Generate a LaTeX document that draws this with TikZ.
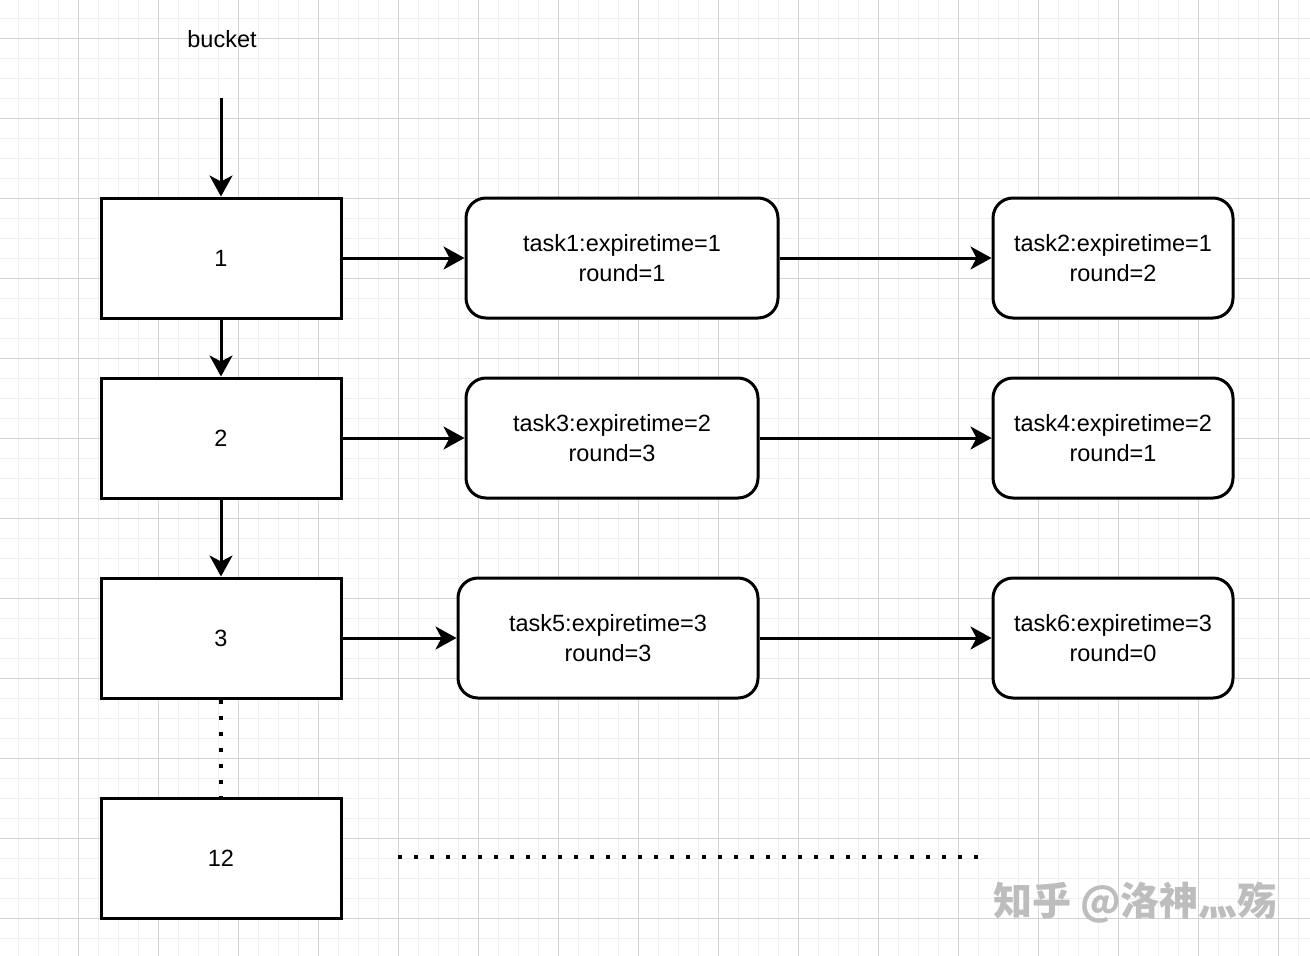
\documentclass[tikz,border=0pt]{standalone}
\usepackage{fontspec}
\setmainfont{Liberation Sans}
\newfontfamily\cjkfont{Noto Sans CJK SC}
\usetikzlibrary{arrows.meta}
\definecolor{minorgrid}{HTML}{EFEFEF}
\definecolor{majorgrid}{HTML}{D4D4D4}
\definecolor{wmark}{HTML}{BDBDBD}
\tikzset{
  lbl/.style={font=\fontsize{23.5}{29.5}\selectfont, align=center, inner sep=0pt},
  bucketbox/.style={lbl, draw, line width=3pt, minimum width=240pt, minimum height=120pt, fill=white},
  taskbox/.style={lbl, draw, line width=3pt, rounded corners=20pt, minimum height=120pt, fill=white},
  link/.style={line width=3pt, -{Stealth[length=21pt,width=23pt,inset=6pt]}},
  dots/.style={line width=4pt, dash pattern=on 4pt off 12pt}
}
\begin{document}
\begin{tikzpicture}[x=1pt,y=-1pt]
\useasboundingbox (0,0) rectangle (1310,956);
\fill[white] (0,0) rectangle (1310,956);
% grid
\foreach \i in {18,38,...,1310} \draw[minorgrid, line width=1pt] (\i,0) -- (\i,956);
\foreach \i in {18,38,...,956} \draw[minorgrid, line width=1pt] (0,\i) -- (1310,\i);
\foreach \i in {78,158,...,1310} \draw[majorgrid, line width=1pt] (\i,0) -- (\i,956);
\foreach \i in {38,118,...,956} \draw[majorgrid, line width=1pt] (0,\i) -- (1310,\i);

% buckets
\node[bucketbox] (b1) at (221,258) {1};
\node[bucketbox] (b2) at (221,438) {2};
\node[bucketbox] (b3) at (221,638) {3};
\node[bucketbox] (b12) at (221,858) {12};

% tasks
\node[taskbox, minimum width=312pt] (t1) at (622,258) {task1:expiretime=1\\round=1};
\node[taskbox, minimum width=240pt] (t2) at (1113,258) {task2:expiretime=1\\round=2};
\node[taskbox, minimum width=292pt] (t3) at (612,438) {task3:expiretime=2\\round=3};
\node[taskbox, minimum width=240pt] (t4) at (1113,438) {task4:expiretime=2\\round=1};
\node[taskbox, minimum width=300pt] (t5) at (608,638) {task5:expiretime=3\\round=3};
\node[taskbox, minimum width=240pt] (t6) at (1113,638) {task6:expiretime=3\\round=0};

\node[lbl] (bucket) at (222,39) {bucket};
\coordinate (bstart) at (221,98);

% connectors
\draw[link] (bstart) -- (b1.north);
\draw[link] (b1) -- (b2);
\draw[link] (b2) -- (b3);
\draw[dots] (b3.south) -- (b12.north);
\draw[link] (b1) -- (t1);
\draw[link] (t1) -- (t2);
\draw[link] (b2) -- (t3);
\draw[link] (t3) -- (t4);
\draw[link] (b3) -- (t5);
\draw[link] (t5) -- (t6);

\coordinate (hd1) at (398,857);
\coordinate (hd2) at (982,857);
\draw[dots] (hd1) -- (hd2);

% watermark
\node[font=\cjkfont\bfseries\fontsize{39}{39}\selectfont, text=wmark, anchor=west, inner sep=0pt] (wm) at (993,903) {知乎 @洛神灬殇};
\end{tikzpicture}
\end{document}
